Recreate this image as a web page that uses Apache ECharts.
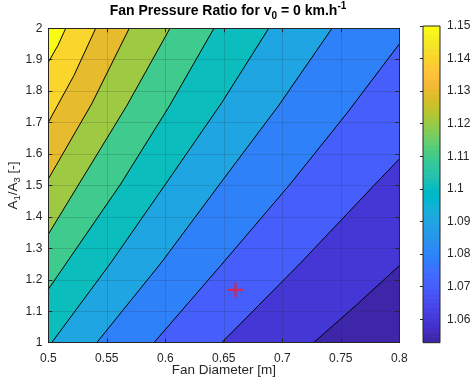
<!DOCTYPE html>
<html><head><meta charset="utf-8">
<script src="https://cdn.jsdelivr.net/npm/echarts@6/dist/echarts.min.js"></script>
<style>html,body{margin:0;padding:0;background:#fff}#c{width:474px;height:382px}</style>
</head><body><div id="c"></div>
<script>
// ---- data ----
const levels = [1.15, 1.14, 1.13, 1.12, 1.11, 1.10, 1.09, 1.08, 1.07, 1.06];
// contour lines, each ordered from its top/right end to its bottom/left end: [fan diameter, A1/A3]
const line115 = [[0.5149, 2.0], [0.5083, 1.946], [0.5, 1.892]];
const line114 = [[0.5405, 2.0], [0.5220, 1.8505], [0.5, 1.701]];
const line113 = [[0.5692, 2.0], [0.5372, 1.7605], [0.5, 1.5207]];
const line112 = [[0.6040, 2.0], [0.5668, 1.752], [0.5262, 1.5048], [0.5, 1.3448]];
const line111 = [[0.6416, 2.0], [0.6035, 1.7529], [0.5619, 1.5048], [0.5, 1.1698]];
const line110 = [[0.6884, 2.0], [0.6485, 1.7646], [0.6003, 1.5048], [0.5533, 1.2535], [0.5029, 1.0]];
const line109 = [[0.7425, 2.0], [0.6972, 1.756], [0.6485, 1.5143], [0.5970, 1.2566], [0.5414, 1.0]];
const line108 = [[0.8, 1.95], [0.7547, 1.7274], [0.7068, 1.5048], [0.6485, 1.2503], [0.5903, 1.0]];
const line107 = [[0.8, 1.5843], [0.7795, 1.5048], [0.7156, 1.2535], [0.6482, 1.0]];
const line106 = [[0.8, 1.2449], [0.7643, 1.1231], [0.7268, 1.0]];
const contourLines = [line115, line114, line113, line112, line111, line110, line109, line108, line107, line106];
const markerPoint = [0.66, 1.168];
const colorbarTicks = [1.06, 1.07, 1.08, 1.09, 1.10, 1.11, 1.12, 1.13, 1.14, 1.15];
const colorMin = 1.0528, colorMax = 1.15;
const xMin = 0.5, xMax = 0.8, yMin = 1, yMax = 2;

// ---- parula colormap (64 entries) ----
const parula = [[0.2422,0.1504,0.6603],[0.2504,0.1650,0.7076],[0.2578,0.1818,0.7511],[0.2647,0.1978,0.7952],[0.2706,0.2147,0.8364],[0.2751,0.2342,0.8710],[0.2783,0.2559,0.8991],[0.2803,0.2782,0.9221],[0.2813,0.3006,0.9414],[0.2810,0.3228,0.9579],[0.2795,0.3447,0.9717],[0.2760,0.3667,0.9829],[0.2699,0.3892,0.9906],[0.2602,0.4123,0.9952],[0.2440,0.4358,0.9988],[0.2206,0.4603,0.9973],[0.1963,0.4847,0.9892],[0.1834,0.5074,0.9798],[0.1786,0.5289,0.9682],[0.1764,0.5499,0.9520],[0.1687,0.5703,0.9359],[0.1540,0.5902,0.9218],[0.1460,0.6091,0.9079],[0.1380,0.6276,0.8973],[0.1248,0.6459,0.8883],[0.1113,0.6635,0.8763],[0.0952,0.6798,0.8598],[0.0689,0.6948,0.8394],[0.0297,0.7082,0.8163],[0.0036,0.7203,0.7917],[0.0067,0.7312,0.7660],[0.0433,0.7411,0.7394],[0.0964,0.7500,0.7120],[0.1408,0.7584,0.6842],[0.1717,0.7670,0.6554],[0.1938,0.7758,0.6251],[0.2161,0.7843,0.5923],[0.2470,0.7918,0.5567],[0.2906,0.7973,0.5188],[0.3406,0.8008,0.4789],[0.3909,0.8029,0.4354],[0.4456,0.8024,0.3909],[0.5044,0.7993,0.3480],[0.5616,0.7942,0.3045],[0.6174,0.7876,0.2612],[0.6720,0.7793,0.2227],[0.7242,0.7698,0.1910],[0.7738,0.7598,0.1646],[0.8203,0.7498,0.1535],[0.8634,0.7406,0.1596],[0.9035,0.7330,0.1774],[0.9393,0.7288,0.2100],[0.9728,0.7298,0.2394],[0.9956,0.7434,0.2371],[0.9970,0.7659,0.2199],[0.9952,0.7893,0.2028],[0.9892,0.8136,0.1885],[0.9786,0.8386,0.1766],[0.9676,0.8639,0.1643],[0.9610,0.8890,0.1537],[0.9597,0.9135,0.1423],[0.9628,0.9373,0.1265],[0.9691,0.9606,0.1064],[0.9769,0.9839,0.0805]];
const rgb = c => 'rgb(' + c.map(v => Math.round(v * 255)).join(',') + ')';
function colorOf(v) {
  let i = Math.floor((v - colorMin) / (colorMax - colorMin) * 64);
  i = Math.max(0, Math.min(63, i));
  return rgb(parula[i]);
}

// polygons: whole area at the min colour, then upper-left side of each contour line
const polys = [{pts: [[xMin, yMin], [xMax, yMin], [xMax, yMax], [xMin, yMax]], color: colorOf(colorMin)}];
for (let k = contourLines.length - 1; k >= 0; k--) {
  const ln = contourLines[k];
  const pts = ln.slice();
  const s = ln[0], e = ln[ln.length - 1];
  if (e[1] === yMin) pts.push([xMin, yMin]);
  pts.push([xMin, yMax]);
  if (s[0] === xMax) pts.push([xMax, yMax]);
  polys.push({pts: pts, color: colorOf(levels[k])});
}

const axisColor = '#262626';
const font = 'Liberation Sans, Arial, Helvetica, sans-serif';
const gridLine = {show: true, lineStyle: {color: 'rgba(38,38,38,0.16)', width: 1}};
const tick = {show: true, inside: true, length: 4, lineStyle: {color: axisColor, width: 1}};
const axLine = {show: true, onZero: false, lineStyle: {color: axisColor, width: 1}};

const cbStops = [];
for (let i = 0; i < 64; i++) {
  cbStops.push({offset: i / 64, color: rgb(parula[i])});
  cbStops.push({offset: (i + 1) / 64, color: rgb(parula[i])});
}

const chart = echarts.init(document.getElementById('c'), null, {renderer: 'canvas'});
const series = [{
  type: 'custom', xAxisIndex: 0, yAxisIndex: 0, z: 1, silent: true, clip: true,
  data: polys.map((p, i) => [xMin, yMin, i]),
  renderItem: function (params, api) {
    const p = polys[params.dataIndex];
    return {type: 'polygon', shape: {points: p.pts.map(q => api.coord(q))},
      style: {fill: p.color, stroke: p.color, lineWidth: 0.5}};
  }
}];
contourLines.forEach(ln => series.push({
  type: 'line', xAxisIndex: 0, yAxisIndex: 0, data: ln, symbol: 'none', silent: true, z: 3,
  lineStyle: {color: '#000', width: 1}
}));
series.push({
  type: 'scatter', xAxisIndex: 0, yAxisIndex: 0, data: [markerPoint], z: 4, silent: true,
  symbol: 'path://M6.4,0H8.6V6.4H15V8.6H8.6V15H6.4V8.6H0V6.4H6.4Z', symbolSize: 15,
  itemStyle: {color: '#f5182e'}
});
series.push({
  type: 'custom', xAxisIndex: 2, yAxisIndex: 2, silent: true, z: 1,
  data: [[0, colorMin]],
  renderItem: function (params, api) {
    const a = api.coord([0, colorMax]), b = api.coord([1, colorMin]);
    return {type: 'rect', shape: {x: a[0], y: a[1], width: b[0] - a[0], height: b[1] - a[1]},
      style: {fill: new echarts.graphic.LinearGradient(0, 1, 0, 0, cbStops), stroke: axisColor, lineWidth: 1}};
  }
});

chart.setOption({
  animation: false,
  backgroundColor: '#fff',
  textStyle: {fontFamily: font},
  title: {
    text: 'Fan Pressure Ratio for v{sub|0} = 0 km.h{sup|-1}',
    left: 228, top: 1, textAlign: 'center', padding: 0,
    textStyle: {fontFamily: font, fontSize: 14, fontWeight: 'bold', color: '#000', lineHeight: 20,
      rich: {
        sub: {fontFamily: font, fontSize: 10, fontWeight: 'bold', color: '#000', lineHeight: 6, verticalAlign: 'bottom'},
        sup: {fontFamily: font, fontSize: 10, fontWeight: 'bold', color: '#000', lineHeight: 10, verticalAlign: 'top'}
      }}
  },
  grid: [
    {left: 48.3, top: 28.3, width: 351, height: 314.4, containLabel: false, outerBoundsMode: 'none'},
    {left: 423, top: 26, width: 17, height: 316.7, containLabel: false, outerBoundsMode: 'none'}
  ],
  xAxis: [
    {gridIndex: 0, type: 'value', min: xMin, max: xMax, interval: 0.05, position: 'bottom', z: 10,
      axisLine: axLine, axisTick: tick, splitLine: gridLine,
      axisLabel: {fontSize: 12, color: axisColor, margin: 10, fontFamily: font},
      name: 'Fan Diameter [m]', nameLocation: 'middle', nameGap: 21, nameMoveOverlap: false,
      nameTextStyle: {fontSize: 13.5, color: axisColor, fontFamily: font, verticalAlign: 'top'}},
    {gridIndex: 0, type: 'value', min: xMin, max: xMax, interval: 0.05, position: 'top', z: 10,
      axisLine: axLine, axisTick: tick, splitLine: {show: false}, axisLabel: {show: false}},
    {gridIndex: 1, type: 'value', min: 0, max: 1, show: false}
  ],
  yAxis: [
    {gridIndex: 0, type: 'value', min: yMin, max: yMax, interval: 0.1, position: 'left', z: 10,
      axisLine: axLine, axisTick: tick, splitLine: gridLine,
      axisLabel: {fontSize: 12, color: axisColor, margin: 6, fontFamily: font},
      name: 'A{sub|1}/A{sub|3} [-]', nameLocation: 'middle', nameGap: 26, nameRotate: 90, nameMoveOverlap: false,
      nameTextStyle: {fontSize: 13.5, color: axisColor, fontFamily: font, lineHeight: 18,
        rich: {sub: {fontSize: 9.5, color: axisColor, fontFamily: font, lineHeight: 6, verticalAlign: 'bottom'}}}},
    {gridIndex: 0, type: 'value', min: yMin, max: yMax, interval: 0.1, position: 'right', z: 10,
      axisLine: axLine, axisTick: tick, splitLine: {show: false}, axisLabel: {show: false}},
    {gridIndex: 1, type: 'value', min: colorMin, max: colorMax, position: 'right', z: 10,
      axisLine: {show: false}, splitLine: {show: false},
      axisTick: {show: true, inside: true, length: 3, customValues: colorbarTicks, lineStyle: {color: axisColor}},
      axisLabel: {show: true, customValues: colorbarTicks, fontSize: 12, color: axisColor, margin: 7, fontFamily: font}}
  ],
  series: series
});
</script></body></html>
